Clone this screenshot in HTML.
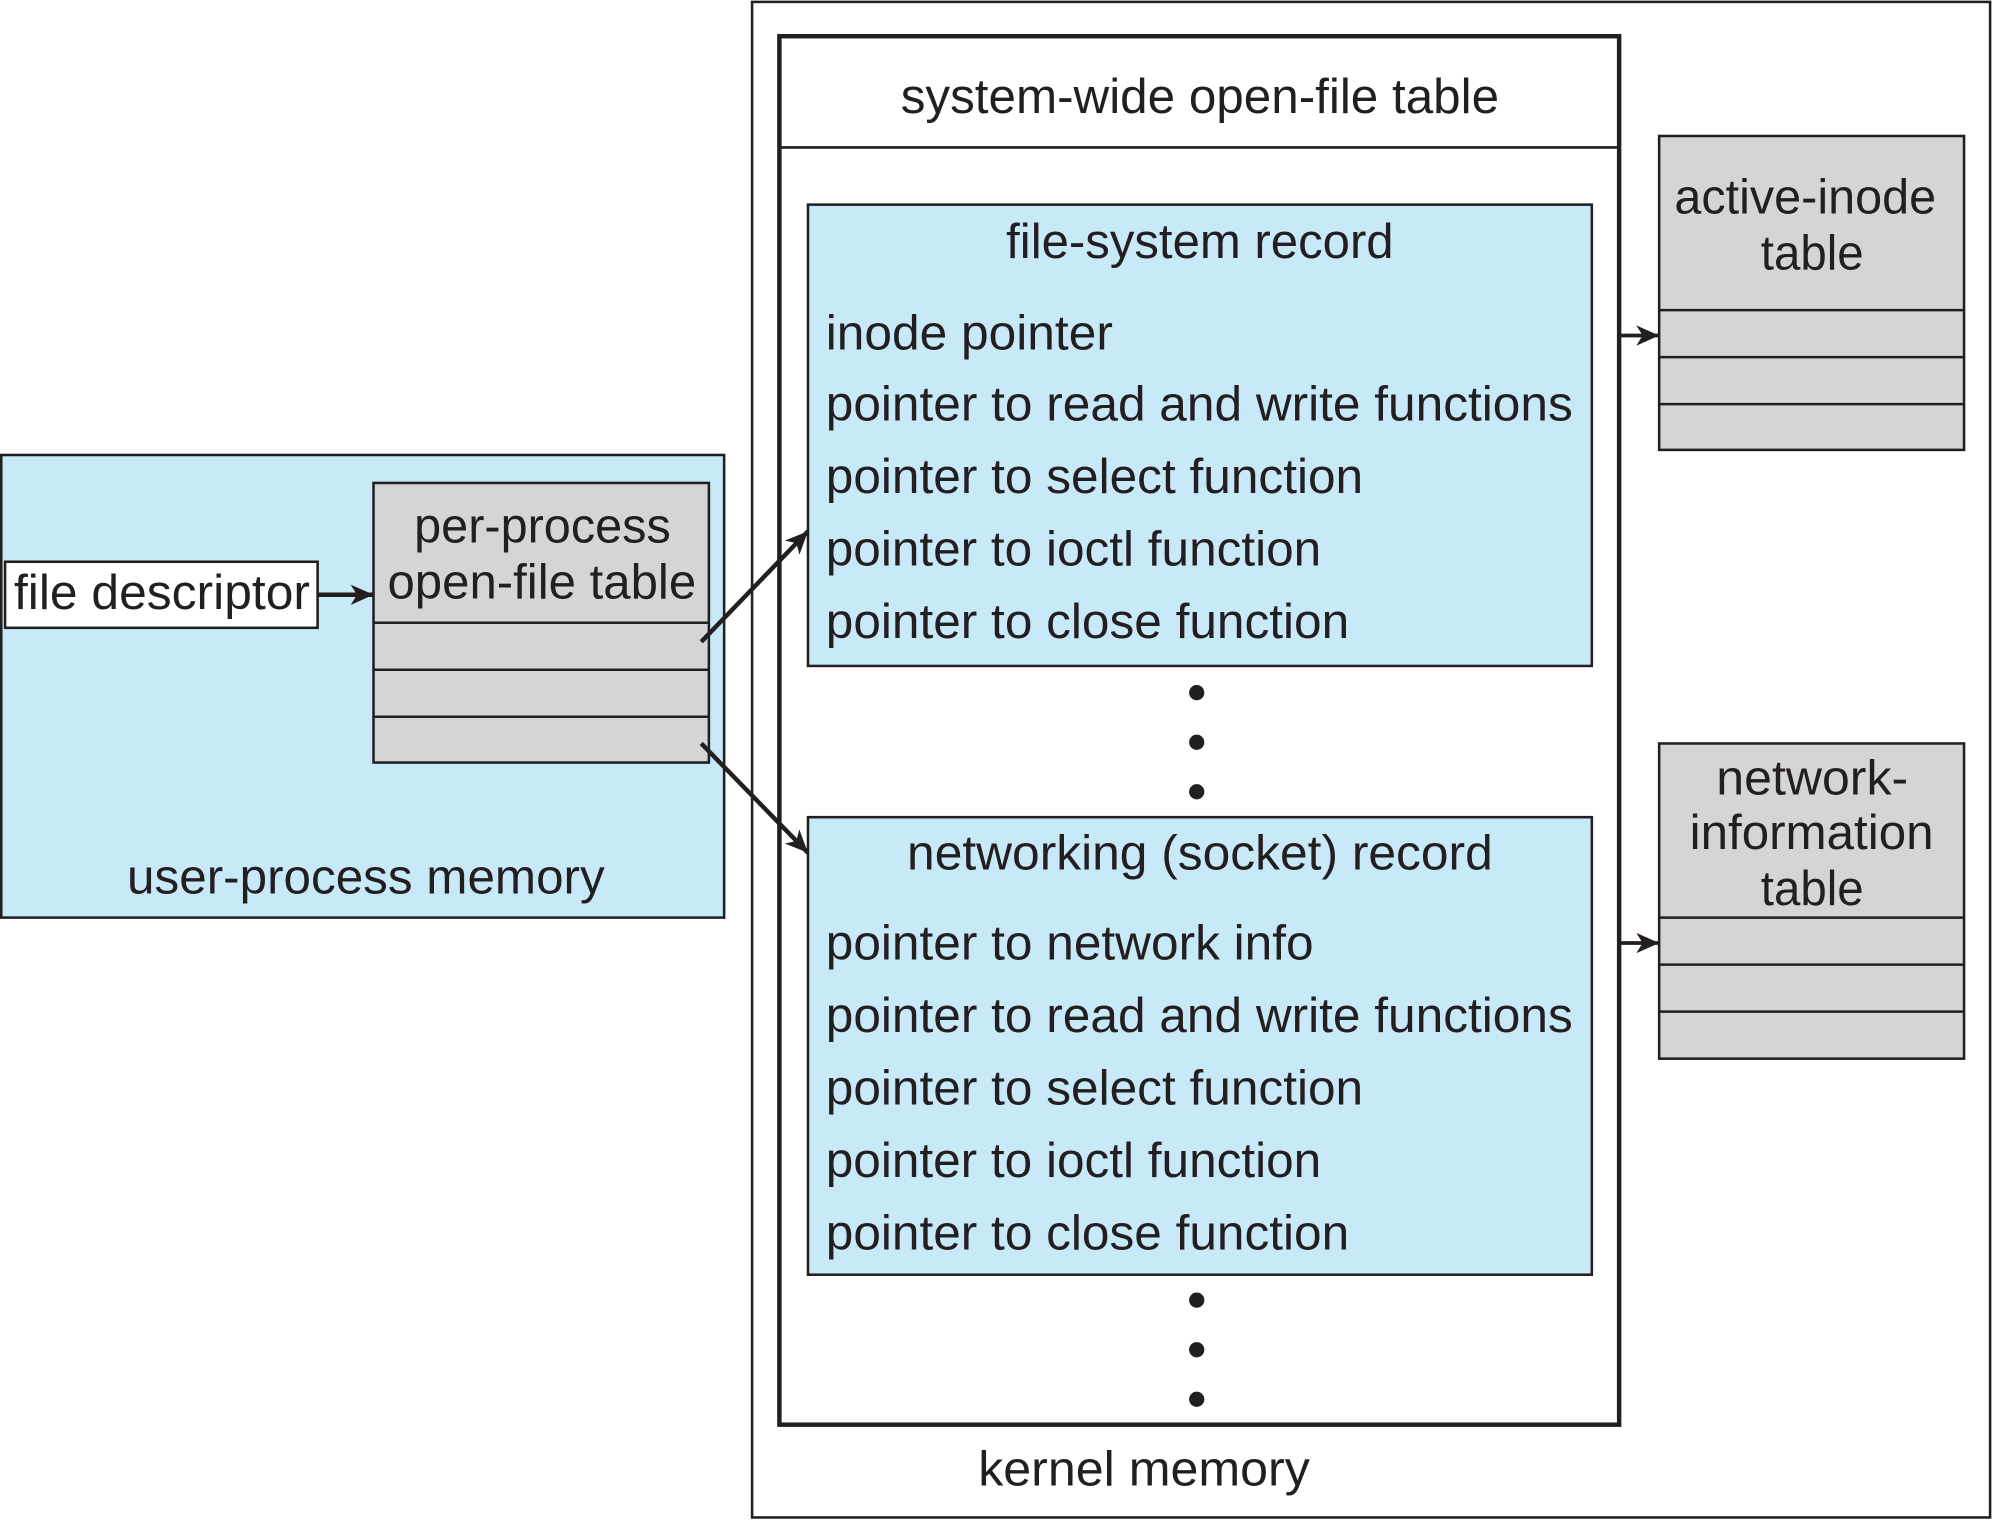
<!DOCTYPE html>
<html><head><meta charset="utf-8"><style>
html,body{margin:0;padding:0;background:#fff;}
svg{display:block;}
text{font-family:"Liberation Sans",Arial,sans-serif;fill:#231f20;font-size:39px;}
</style></head><body>
<svg width="1992" height="1520" viewBox="0 0 1568 1196" preserveAspectRatio="none" xmlns="http://www.w3.org/2000/svg">
<defs>
<marker id="ah2" markerWidth="20" markerHeight="16" refX="18" refY="8" orient="auto" markerUnits="userSpaceOnUse">
<path d="M0,0 L18,8 L0,16 L5,8 z" fill="#231f20"/>
</marker>
</defs>
<rect x="592" y="1.5" width="974.5" height="1192.5" fill="#fff" stroke="#231f20" stroke-width="2"/>
<rect x="613.5" y="28.5" width="661" height="1092.5" fill="#fff" stroke="#231f20" stroke-width="3.5"/>
<line x1="613" y1="116" x2="1275" y2="116" stroke="#231f20" stroke-width="2"/>
<text x="709" y="89" textLength="471" lengthAdjust="spacingAndGlyphs">system-wide open-file table</text>

<rect x="636" y="161" width="617" height="363" fill="#c7e9f8" stroke="#231f20" stroke-width="2"/>
<text x="792" y="203" textLength="305" lengthAdjust="spacingAndGlyphs">file-system record</text>
<text x="650" y="275" textLength="226" lengthAdjust="spacingAndGlyphs">inode pointer</text>
<text x="650" y="331" textLength="588" lengthAdjust="spacingAndGlyphs">pointer to read and write functions</text>
<text x="650" y="388" textLength="423" lengthAdjust="spacingAndGlyphs">pointer to select function</text>
<text x="650" y="445" textLength="390" lengthAdjust="spacingAndGlyphs">pointer to ioctl function</text>
<text x="650" y="502" textLength="412" lengthAdjust="spacingAndGlyphs">pointer to close function</text>

<circle cx="942" cy="545" r="6" fill="#231f20"/>
<circle cx="942" cy="584" r="6" fill="#231f20"/>
<circle cx="942" cy="623" r="6" fill="#231f20"/>

<rect x="636" y="643" width="617" height="360" fill="#c7e9f8" stroke="#231f20" stroke-width="2"/>
<text x="714" y="684" textLength="461" lengthAdjust="spacingAndGlyphs">networking (socket) record</text>
<text x="650" y="755" textLength="384" lengthAdjust="spacingAndGlyphs">pointer to network info</text>
<text x="650" y="812" textLength="588" lengthAdjust="spacingAndGlyphs">pointer to read and write functions</text>
<text x="650" y="869" textLength="423" lengthAdjust="spacingAndGlyphs">pointer to select function</text>
<text x="650" y="926" textLength="390" lengthAdjust="spacingAndGlyphs">pointer to ioctl function</text>
<text x="650" y="983" textLength="412" lengthAdjust="spacingAndGlyphs">pointer to close function</text>

<circle cx="942" cy="1023" r="6" fill="#231f20"/>
<circle cx="942" cy="1062" r="6" fill="#231f20"/>
<circle cx="942" cy="1101" r="6" fill="#231f20"/>

<text x="770" y="1169" textLength="261" lengthAdjust="spacingAndGlyphs">kernel memory</text>

<rect x="1306" y="107" width="240" height="247" fill="#d5d5d7" stroke="#231f20" stroke-width="2"/>
<line x1="1306" y1="244" x2="1546" y2="244" stroke="#231f20" stroke-width="2"/>
<line x1="1306" y1="281" x2="1546" y2="281" stroke="#231f20" stroke-width="2"/>
<line x1="1306" y1="318" x2="1546" y2="318" stroke="#231f20" stroke-width="2"/>
<text x="1318" y="168" textLength="206" lengthAdjust="spacingAndGlyphs">active-inode</text>
<text x="1386" y="212" textLength="81" lengthAdjust="spacingAndGlyphs">table</text>
<line x1="1275" y1="264" x2="1306" y2="264" stroke="#231f20" stroke-width="3" marker-end="url(#ah2)"/>

<rect x="1306" y="585" width="240" height="248" fill="#d5d5d7" stroke="#231f20" stroke-width="2"/>
<line x1="1306" y1="722" x2="1546" y2="722" stroke="#231f20" stroke-width="2"/>
<line x1="1306" y1="759" x2="1546" y2="759" stroke="#231f20" stroke-width="2"/>
<line x1="1306" y1="796" x2="1546" y2="796" stroke="#231f20" stroke-width="2"/>
<text x="1351" y="625" textLength="151" lengthAdjust="spacingAndGlyphs">network-</text>
<text x="1330" y="668" textLength="192" lengthAdjust="spacingAndGlyphs">information</text>
<text x="1386" y="712" textLength="81" lengthAdjust="spacingAndGlyphs">table</text>
<line x1="1275" y1="742" x2="1306" y2="742" stroke="#231f20" stroke-width="3" marker-end="url(#ah2)"/>

<rect x="1" y="358" width="569" height="364" fill="#c7e9f8" stroke="#231f20" stroke-width="2"/>
<text x="100" y="703" textLength="376" lengthAdjust="spacingAndGlyphs">user-process memory</text>
<rect x="294" y="380" width="264" height="220" fill="#d5d5d7" stroke="#231f20" stroke-width="2"/>
<line x1="294" y1="490" x2="558" y2="490" stroke="#231f20" stroke-width="2"/>
<line x1="294" y1="527" x2="558" y2="527" stroke="#231f20" stroke-width="2"/>
<line x1="294" y1="564" x2="558" y2="564" stroke="#231f20" stroke-width="2"/>
<text x="326" y="427" textLength="202" lengthAdjust="spacingAndGlyphs">per-process</text>
<text x="305" y="471" textLength="243" lengthAdjust="spacingAndGlyphs">open-file table</text>
<rect x="4" y="442" width="246" height="52" fill="#fff" stroke="#231f20" stroke-width="2"/>
<text x="11" y="479" textLength="233" lengthAdjust="spacingAndGlyphs">file descriptor</text>
<line x1="250" y1="468" x2="294" y2="468" stroke="#231f20" stroke-width="3.5" marker-end="url(#ah2)"/>

<line x1="552" y1="505" x2="636" y2="418" stroke="#231f20" stroke-width="3.5" marker-end="url(#ah2)"/>
<line x1="552" y1="585" x2="636" y2="671" stroke="#231f20" stroke-width="3.5" marker-end="url(#ah2)"/>
</svg>
</body></html>
